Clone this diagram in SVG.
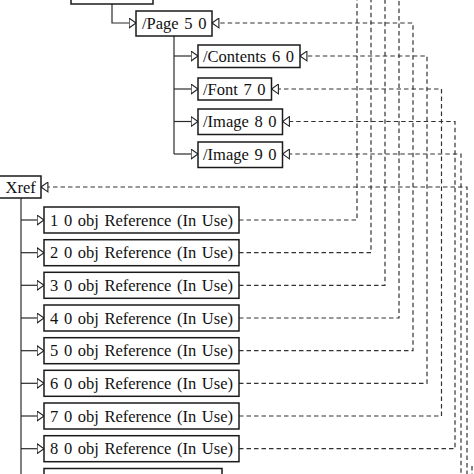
<svg xmlns="http://www.w3.org/2000/svg" width="474" height="474" viewBox="0 0 474 474">
  <style>
    .box { fill: #fff; stroke: #1a1a1a; stroke-width: 1.5; }
    .lbl { font-family: "Liberation Serif", "Times New Roman", serif; font-size: 16.5px; fill: #111; word-spacing: 1.5px; }
    .tree { fill: none; stroke: #2a2a2a; stroke-width: 1.2; }
    .ref { fill: none; stroke: #333; stroke-width: 1.2; stroke-dasharray: 4.5 3; }
  </style>
  <defs>
    <marker id="tri" viewBox="0 0 8 11" refX="7.5" refY="5.5" markerWidth="8" markerHeight="11" markerUnits="userSpaceOnUse" orient="auto">
      <path d="M0.6,0.6 L7.5,5.5 L0.6,10.4 Z" fill="#fff" stroke="#222" stroke-width="1.1" stroke-dasharray="none"/>
    </marker>
  </defs>
  <rect width="474" height="474" fill="#fff"/>

  <!-- connectors: object tree (solid) and cross-reference links (dashed) -->
  <g id="connectors">
    <path class="tree" d="M112,4 V23 H136" marker-end="url(#tri)"/>
    <path class="tree" d="M174,36 V154"/>
    <path class="tree" d="M174,56 H198" marker-end="url(#tri)"/>
    <path class="tree" d="M174,89 H198" marker-end="url(#tri)"/>
    <path class="tree" d="M174,121.5 H198" marker-end="url(#tri)"/>
    <path class="tree" d="M174,154 H198" marker-end="url(#tri)"/>
    <path class="tree" d="M21,198 V480"/>
    <path class="tree" d="M21,220 H44" marker-end="url(#tri)"/>
    <path class="tree" d="M21,252.7 H44" marker-end="url(#tri)"/>
    <path class="tree" d="M21,285.3 H44" marker-end="url(#tri)"/>
    <path class="tree" d="M21,318 H44" marker-end="url(#tri)"/>
    <path class="tree" d="M21,350.7 H44" marker-end="url(#tri)"/>
    <path class="tree" d="M21,383.3 H44" marker-end="url(#tri)"/>
    <path class="tree" d="M21,416 H44" marker-end="url(#tri)"/>
    <path class="tree" d="M21,448.7 H44" marker-end="url(#tri)"/>
    <path class="tree" d="M21,481.3 H44" marker-end="url(#tri)"/>

    <path class="ref" d="M239,220 H357 V-10"/>
    <path class="ref" d="M239,252.7 H371 V-10"/>
    <path class="ref" d="M239,285.3 H385 V-10"/>
    <path class="ref" d="M239,318 H399 V-10"/>
    <path class="ref" d="M239,350.7 H413 V23 H212" marker-end="url(#tri)"/>
    <path class="ref" d="M239,383.3 H427 V56 H300" marker-end="url(#tri)"/>
    <path class="ref" d="M239,416 H441.5 V89 H271.5" marker-end="url(#tri)"/>
    <path class="ref" d="M239,448.7 H455 V121.5 H282.5" marker-end="url(#tri)"/>
    <path class="ref" d="M222,481.3 H461 V154 H282.5" marker-end="url(#tri)"/>
    <path class="ref" d="M467,490 V187 H41" marker-end="url(#tri)"/>
    <path class="ref" d="M472,466 V480"/>
  </g>

  <g id="n-pages">
    <rect class="box" x="71" y="-20" width="82" height="24"/>
  </g>
  <g id="n-page5">
    <rect class="box" x="136" y="11" width="76" height="25"/>
    <text class="lbl" x="142" y="28.5">/Page 5 0</text>
  </g>
  <g id="n-contents6">
    <rect class="box" x="198" y="45" width="102" height="22.5"/>
    <text class="lbl" x="203" y="61.5">/Contents 6 0</text>
  </g>
  <g id="n-font7">
    <rect class="box" x="198" y="78" width="73.5" height="22"/>
    <text class="lbl" x="203" y="94.5">/Font 7 0</text>
  </g>
  <g id="n-image8">
    <rect class="box" x="198" y="109" width="84.5" height="25.5"/>
    <text class="lbl" x="203" y="126.5">/Image 8 0</text>
  </g>
  <g id="n-image9">
    <rect class="box" x="198" y="142" width="84.5" height="25.5"/>
    <text class="lbl" x="203" y="159.5">/Image 9 0</text>
  </g>
  <g id="n-xref">
    <rect class="box" x="-1" y="176" width="42" height="22"/>
    <text class="lbl" x="5.5" y="192.5">Xref</text>
  </g>
  <g id="n-ref1">
    <rect class="box" x="44" y="207" width="195" height="26"/>
    <text class="lbl" x="50" y="225.5">1 0 obj Reference (In Use)</text>
  </g>
  <g id="n-ref2">
    <rect class="box" x="44" y="239.7" width="195" height="26"/>
    <text class="lbl" x="50" y="258.2">2 0 obj Reference (In Use)</text>
  </g>
  <g id="n-ref3">
    <rect class="box" x="44" y="272.3" width="195" height="26"/>
    <text class="lbl" x="50" y="290.8">3 0 obj Reference (In Use)</text>
  </g>
  <g id="n-ref4">
    <rect class="box" x="44" y="305" width="195" height="26"/>
    <text class="lbl" x="50" y="323.5">4 0 obj Reference (In Use)</text>
  </g>
  <g id="n-ref5">
    <rect class="box" x="44" y="337.7" width="195" height="26"/>
    <text class="lbl" x="50" y="356.2">5 0 obj Reference (In Use)</text>
  </g>
  <g id="n-ref6">
    <rect class="box" x="44" y="370.3" width="195" height="26"/>
    <text class="lbl" x="50" y="388.8">6 0 obj Reference (In Use)</text>
  </g>
  <g id="n-ref7">
    <rect class="box" x="44" y="403" width="195" height="26"/>
    <text class="lbl" x="50" y="421.5">7 0 obj Reference (In Use)</text>
  </g>
  <g id="n-ref8">
    <rect class="box" x="44" y="435.7" width="195" height="26"/>
    <text class="lbl" x="50" y="454.2">8 0 obj Reference (In Use)</text>
  </g>
  <g id="n-ref9">
    <rect class="box" x="44" y="468.5" width="178" height="26"/>
  </g>
</svg>
